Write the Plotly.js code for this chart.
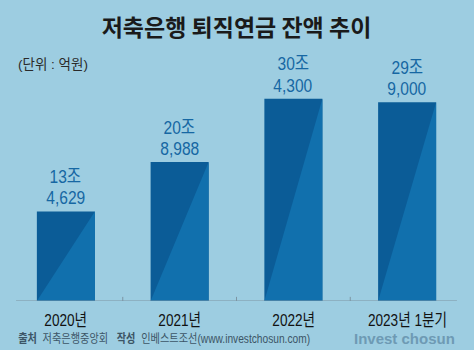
<!DOCTYPE html>
<html>
<head>
<meta charset="utf-8">
<script src="https://cdn.plot.ly/plotly-3.0.1.min.js"></script>
<style>html,body{margin:0;padding:0;background:#9dcde1;}</style>
</head>
<body>
<div id="chart" style="width:474px;height:350px;"></div>
<script>
const categories = ['2020년', '2021년', '2022년', '2023년 1분기'];
const values = [134629, 208988, 304300, 299000]; // 억원
const titleText = '저축은행 퇴직연금 잔액 추이';
const unitText = '(단위 : 억원)';
const sourceText = '<b>출처</b>  저축은행중앙회   <b>작성</b>  인베스트조선(www.investchosun.com)';
const brandText = 'Invest chosun';

const BAR_W = 0.51;
const DARK = '#0b5c97';
const LIGHT = '#1170ad';
const LABEL_FONT = 'Liberation Sans, Noto Sans CJK KR, sans-serif';
const xs = categories.map((c, i) => i);

const joText = v => Math.floor(v / 10000) + '조';
const restText = v => (v % 10000).toLocaleString('en-US');

const traces = [{
  type: 'bar', x: xs, y: values, width: BAR_W,
  marker: {color: DARK, line: {width: 0}},
  hoverinfo: 'skip', showlegend: false
}];
// lighter diagonal triangle on each bar (bottom-left corner -> top-right corner)
xs.forEach((x, i) => {
  traces.push({
    type: 'scatter', mode: 'none', fill: 'toself', fillcolor: LIGHT,
    x: [x - BAR_W / 2, x + BAR_W / 2, x + BAR_W / 2, x - BAR_W / 2],
    y: [0, 0, values[i], 0],
    hoverinfo: 'skip', showlegend: false
  });
});

const annotations = [];
const condensed = [];
function addAnn(a, k, origin) {
  annotations.push(a);
  if (k) condensed.push([annotations.length - 1, k, origin]);
}
xs.forEach((x, i) => {
  addAnn({x: x, y: values[i], xref: 'x', yref: 'y', text: restText(values[i]),
    showarrow: false, yanchor: 'bottom', yshift: 1,
    font: {family: LABEL_FONT, size: 19, color: '#1667a3'}}, 0.82, 'center');
  addAnn({x: x, y: values[i], xref: 'x', yref: 'y', text: joText(values[i]),
    showarrow: false, yanchor: 'bottom', yshift: 22.5,
    font: {family: LABEL_FONT, size: 19, color: '#1667a3'}}, 0.82, 'center');
  addAnn({x: x, y: 0, xref: 'x', yref: 'paper', text: categories[i],
    showarrow: false, yanchor: 'middle', yshift: -19,
    font: {family: LABEL_FONT, size: 17, color: '#111111'}}, 0.8, 'center');
});
addAnn({
  x: 0.0154, y: 1.03, xref: 'paper', yref: 'paper', xanchor: 'left', yanchor: 'middle',
  text: unitText, showarrow: false,
  font: {family: 'Liberation Sans, Noto Sans CJK KR, sans-serif', size: 13.5, color: '#2a2a2a'}
});
addAnn({
  x: 0.0154, y: -0.165, xref: 'paper', yref: 'paper', xanchor: 'left', yanchor: 'middle',
  text: sourceText, showarrow: false,
  font: {family: 'Liberation Sans, Noto Sans CJK KR, sans-serif', size: 12, color: '#3c5566'}
}, 0.85, 'left center');
addAnn({
  x: 0.9846, y: -0.165, xref: 'paper', yref: 'paper', xanchor: 'right', yanchor: 'middle',
  text: '<b>' + brandText + '</b>', showarrow: false,
  font: {family: 'Liberation Sans, sans-serif', size: 15, color: '#6e9ab4'}
});

const shapes = [{
  type: 'line', xref: 'x', yref: 'y', x0: -0.438, x1: 3.438, y0: 0, y1: 0,
  line: {color: '#7d95a3', width: 1}, layer: 'above'
}];
for (let i = 0; i < categories.length - 1; i++) {
  shapes.push({
    type: 'line', xref: 'x', yref: 'paper', x0: i + 0.5, x1: i + 0.5, y0: 0, y1: 0.018,
    line: {color: '#7d95a3', width: 1}
  });
}

const layout = {
  width: 474, height: 350,
  paper_bgcolor: '#9dcde1', plot_bgcolor: '#9dcde1',
  margin: {l: 9, r: 10, t: 71, b: 49},
  title: {
    text: '<b>' + titleText + '</b>', x: 0.5, xref: 'paper', xanchor: 'center',
    y: 0.92, yref: 'container', yanchor: 'middle',
    font: {family: 'Noto Sans CJK KR, sans-serif', size: 23, color: '#1a1a1a'}
  },
  xaxis: {
    range: [-0.5, 3.5], showticklabels: false, ticks: '',
    showgrid: false, zeroline: false, showline: false, fixedrange: true
  },
  yaxis: {
    range: [0, 345900], visible: false, showgrid: false, zeroline: false, fixedrange: true
  },
  annotations: annotations,
  shapes: shapes,
  showlegend: false
};

function condense(el, k, origin) {
  el.style.transformBox = 'fill-box';
  el.style.transformOrigin = origin;
  el.style.transform = 'scaleX(' + k + ')';
}

Plotly.newPlot('chart', traces, layout, {displayModeBar: false, staticPlot: true}).then(gd => {
  const byIdx = {};
  gd.querySelectorAll('.annotation').forEach(g => { byIdx[g.getAttribute('data-index')] = g; });
  condensed.forEach(([idx, k, origin]) => {
    const g = byIdx[idx];
    const t = g && g.querySelector('text');
    if (t) condense(t, k, origin);
  });
});
</script>
</body>
</html>
